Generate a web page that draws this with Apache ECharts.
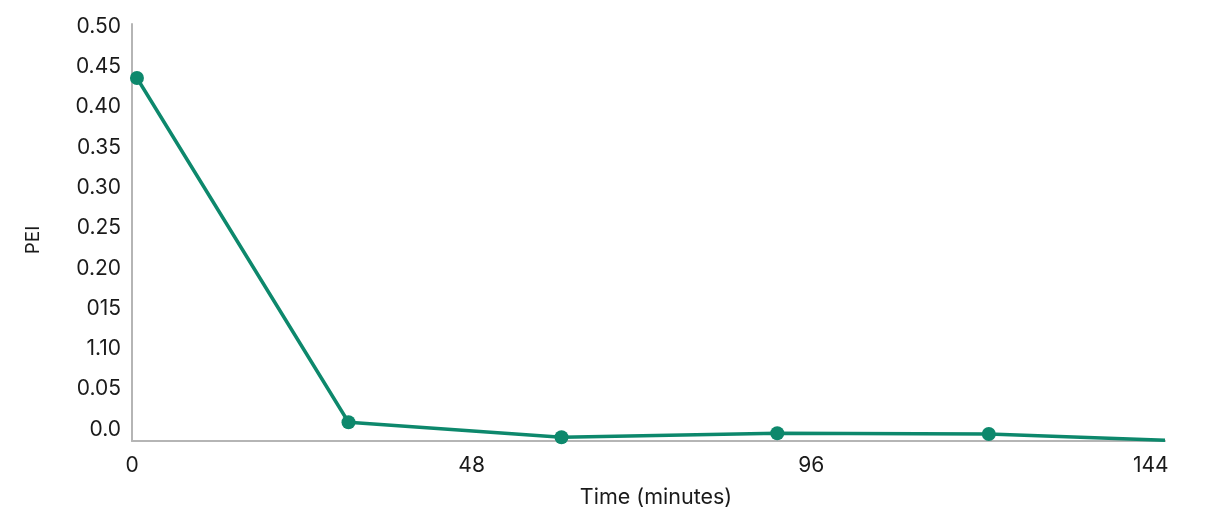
<!DOCTYPE html>
<html>
<head>
<meta charset="utf-8">
<script src="https://cdn.jsdelivr.net/npm/echarts@6/dist/echarts.min.js"></script>
<style>
html,body{margin:0;padding:0;background:#fff;}
#chart{width:1216px;height:519px;}
</style>
</head>
<body>
<div id="chart"></div>
<script>
// Data
var timeMinutes = [0.7, 30.6, 60.7, 91.2, 121.1, 146];
var peiValues = [0.436, 0.009, -0.0097, -0.0047, -0.0056, -0.0134];
// Tick labels exactly as printed in the reference (bottom to top)
var yTickLabels = ['0.0', '0.05', '1.10', '015', '0.20', '0.25', '0.30', '0.35', '0.40', '0.45', '0.50'];
var xTickLabels = ['0', '48', '96', '144'];

var chart = echarts.init(document.getElementById('chart'), null, {renderer: 'canvas'});
var textColor = '#1a1a1a';
var fontFam = 'Inter, Roboto, "Liberation Sans", sans-serif';

chart.setOption({
  animation: false,
  backgroundColor: '#ffffff',
  grid: {left: 132, right: 51, top: 24, bottom: 78, containLabel: false},
  xAxis: {
    type: 'value',
    min: 0,
    max: 146,
    interval: 48,
    name: 'Time (minutes)',
    nameLocation: 'middle',
    nameGap: 46,
    nameTextStyle: {color: textColor, fontSize: 21.5, fontFamily: fontFam, padding: [0, 0, 0, 15]},
    axisLine: {show: true, onZero: false, lineStyle: {color: '#b5b5b5', width: 2}},
    axisTick: {show: false},
    splitLine: {show: false},
    axisLabel: {
      color: textColor, fontSize: 21, fontFamily: fontFam, margin: 14,
      showMaxLabel: false,
      formatter: function (v) {
        var i = Math.round(v / 48);
        return (Math.abs(v - i * 48) < 1e-6 && xTickLabels[i] !== undefined) ? xTickLabels[i] : '';
      }
    }
  },
  yAxis: {
    type: 'value',
    min: -0.0143,
    max: 0.503,
    splitNumber: 10,
    name: 'PEI',
    nameLocation: 'middle',
    nameRotate: 90,
    nameGap: 89,
    nameTextStyle: {color: textColor, fontSize: 19, fontFamily: fontFam, padding: [0, 15, 0, 0]},
    axisLine: {show: true, lineStyle: {color: '#b5b5b5', width: 2}},
    axisTick: {show: false},
    splitLine: {show: false},
    axisLabel: {
      color: textColor, fontSize: 21, fontFamily: fontFam, margin: 11,
      showMinLabel: false, showMaxLabel: false,
      formatter: function (v) {
        var i = Math.round(v / 0.05);
        return (Math.abs(v - i * 0.05) < 1e-6 && yTickLabels[i] !== undefined) ? yTickLabels[i] : '';
      }
    }
  },
  series: [{
    type: 'line',
    data: timeMinutes.map(function (t, i) { return [t, peiValues[i]]; }),
    symbol: 'circle',
    symbolSize: function (val, params) { return params.dataIndex === timeMinutes.length - 1 ? 0 : 14; },
    showAllSymbol: true,
    lineStyle: {color: '#0d886c', width: 3.5},
    itemStyle: {color: '#0d886c'},
    clip: false
  }]
});
</script>
</body>
</html>
